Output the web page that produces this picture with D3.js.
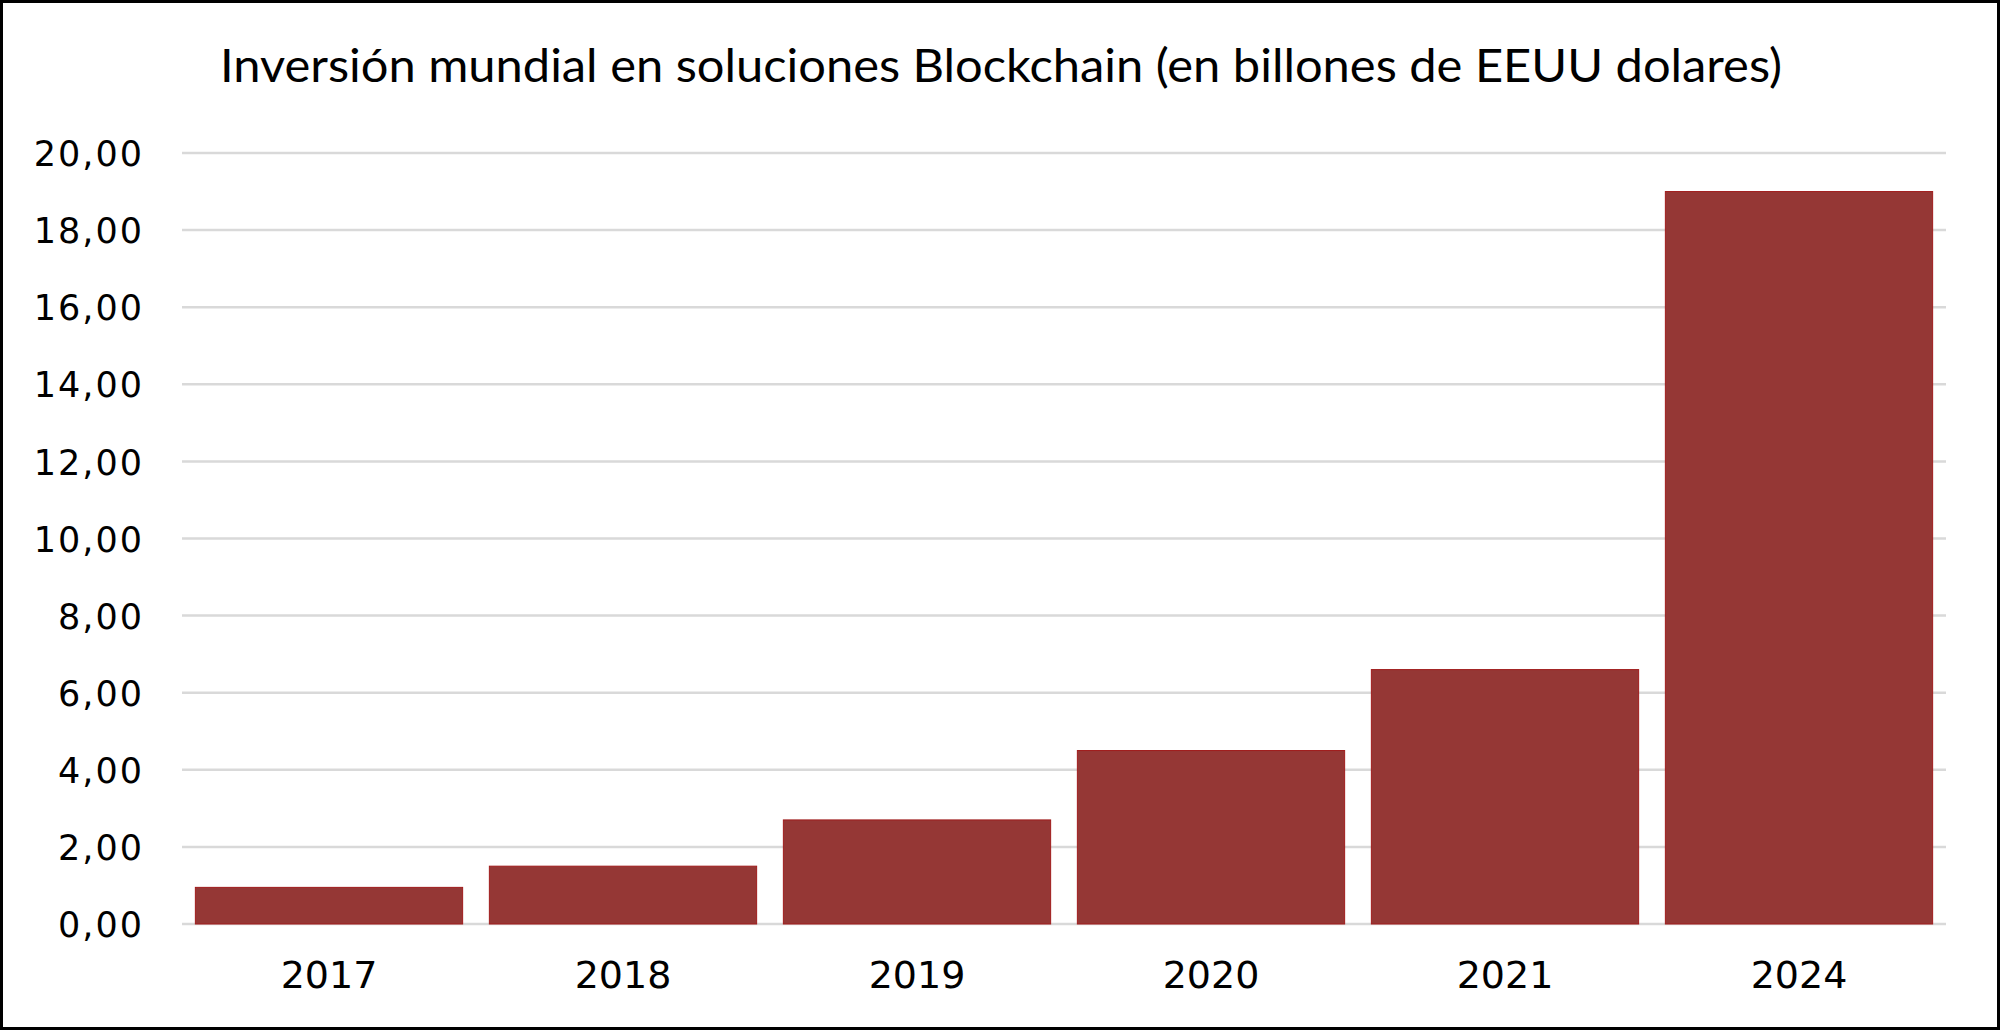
<!DOCTYPE html>
<html>
<head>
<meta charset="utf-8">
<script src="https://cdn.jsdelivr.net/npm/d3@7"></script>
<style>
  html, body { margin: 0; padding: 0; background: #fff; }
  svg { display: block; }
</style>
</head>
<body>
<svg id="chart" width="2000" height="1030"></svg>
<script>
const title = "Inversión mundial en soluciones Blockchain (en billones de EEUU dolares)";
const categories = ["2017", "2018", "2019", "2020", "2021", "2024"];
const values = [0.95, 1.5, 2.7, 4.5, 6.6, 19.0];
const yTicks = [0, 2, 4, 6, 8, 10, 12, 14, 16, 18, 20];

const svg = d3.select("#chart");
const W = 2000, H = 1030;
const plot = { left: 182, right: 1946, top: 153, bottom: 924 };

// frame
svg.append("rect")
  .attr("x", 1.5).attr("y", 1.5)
  .attr("width", W - 3).attr("height", H - 3)
  .attr("fill", "#fff").attr("stroke", "#000").attr("stroke-width", 3);

const x = d3.scaleBand()
  .domain(categories)
  .range([plot.left, plot.right])
  .paddingInner(0.0909)
  .paddingOuter(0.04545);

const y = d3.scaleLinear()
  .domain([0, 20])
  .range([plot.bottom, plot.top]);

// gridlines
svg.append("g")
  .selectAll("line")
  .data(yTicks)
  .join("line")
  .attr("x1", plot.left).attr("x2", plot.right)
  .attr("y1", d => y(d)).attr("y2", d => y(d))
  .attr("stroke", "#d9d9d9").attr("stroke-width", 2.5);

// y axis labels
const yAxis = d3.axisLeft(y)
  .tickValues(yTicks)
  .tickSize(0)
  .tickPadding(0)
  .tickFormat(d => d3.format(".2f")(d).replace(".", ","));
const gy = svg.append("g")
  .attr("transform", `translate(${144},0)`)
  .call(yAxis);
gy.select(".domain").remove();
gy.selectAll("text")
  .attr("font-family", "DejaVu Sans")
  .attr("font-size", 35)
  .attr("letter-spacing", "2px")
  .attr("fill", "#000")
  .attr("dy", "0.36em");

// bars
svg.append("g")
  .selectAll("rect")
  .data(categories.map((c, i) => ({ c, v: values[i] })))
  .join("rect")
  .attr("x", d => x(d.c))
  .attr("y", d => y(d.v))
  .attr("width", x.bandwidth())
  .attr("height", d => y(0) - y(d.v))
  .attr("fill", "#953735")
  .attr("stroke", "#a01c1c")
  .attr("stroke-width", 1);

// x axis labels
const xAxis = d3.axisBottom(x).tickSize(0).tickPadding(0);
const gx = svg.append("g")
  .attr("transform", `translate(0,${plot.bottom})`)
  .call(xAxis);
gx.select(".domain").remove();
gx.selectAll("text")
  .attr("font-family", "DejaVu Sans")
  .attr("font-size", 38)
  .attr("fill", "#000")
  .attr("dy", null)
  .attr("y", 64);

// title
svg.append("text")
  .attr("x", 1001).attr("y", 82)
  .attr("text-anchor", "middle")
  .attr("font-family", "Lato")
  .attr("font-size", 46)
  .attr("fill", "#000")
  .attr("textLength", 1562)
  .attr("lengthAdjust", "spacingAndGlyphs")
  .text(title);
</script>
</body>
</html>
